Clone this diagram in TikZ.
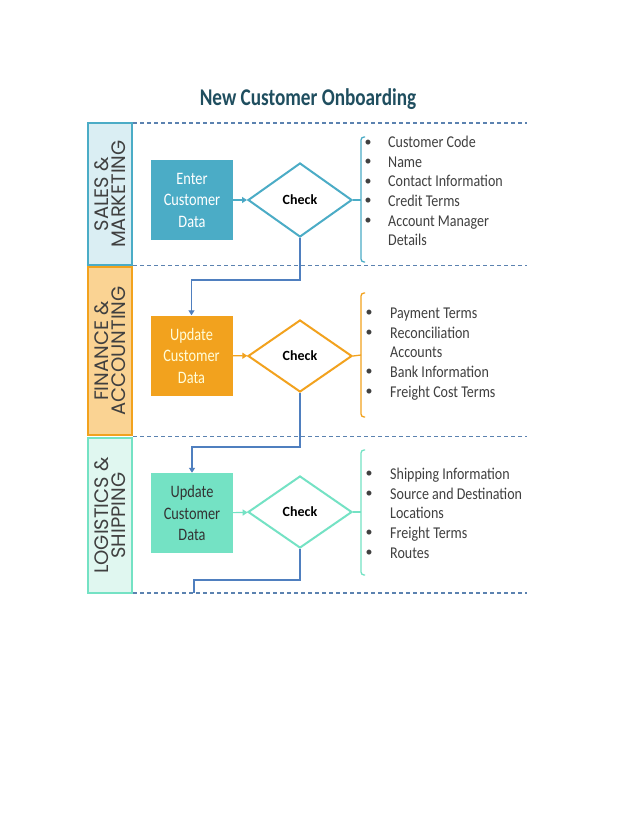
\documentclass[tikz,border=0pt]{standalone}
\usepackage{fontspec}
\setmainfont{Carlito}
\newfontfamily\gothic{Poppins}
\newfontfamily\cond[FakeStretch=0.85]{Carlito}
\newfontfamily\boxfont[FakeStretch=0.82]{Carlito}
\newfontfamily\titlefont[FakeStretch=0.8]{Carlito}
\usetikzlibrary{shapes.geometric,arrows.meta}
\definecolor{tealC}{HTML}{4BACC6}
\definecolor{tealL}{HTML}{DAEEF3}
\definecolor{orgC}{HTML}{F2A21E}
\definecolor{orgL}{HTML}{FAD393}
\definecolor{mintC}{HTML}{74E2C4}
\definecolor{mintL}{HTML}{E0F7F0}
\definecolor{dashC}{HTML}{5B82B0}
\definecolor{connC}{HTML}{4F7FBF}
\definecolor{titleC}{HTML}{1F4E5F}
\definecolor{txtC}{HTML}{404040}
\begin{document}
\begin{tikzpicture}[x=1pt,y=-1pt,
  lane/.style={draw, line width=2.5pt, minimum height=44pt, inner sep=0pt,
     font=\gothic\fontsize{19.5}{17}\selectfont, align=center, rotate=90},
  stepbox/.style={minimum width=82pt, minimum height=80pt, inner sep=0pt,
     align=center, font=\boxfont\fontsize{17.5}{21.5}\selectfont},
  check/.style={diamond, draw, line width=2pt, fill=white, minimum width=104pt,
     minimum height=74pt, aspect=1.4, inner sep=0pt,
     font=\bfseries\fontsize{14}{16}\selectfont},
  dashline/.style={dashC, line width=1.3pt, dash pattern=on 4pt off 3pt},
  arr/.style={line width=1.2pt, -{Triangle[width=6pt,length=5pt]}},
  conn/.style={connC, line width=1.3pt},
  bullet/.style={anchor=center, text=txtC, inner sep=0pt, font=\fontsize{14}{16}\selectfont},
  item/.style={anchor=base west, text=txtC, inner sep=0pt, font=\cond\fontsize{16.5}{19}\selectfont},
  bracket/.style={line width=1.3pt, rounded corners=3pt}
]
\useasboundingbox (0,0) rectangle (638,826);
\fill[white] (0,0) rectangle (638,826);

% title
\node[text=titleC, font=\titlefont\bfseries\fontsize{24}{28}\selectfont] (title) at (308,99) {New Customer Onboarding};

% lanes
\node[lane, draw=tealC, fill=tealL, text=txtC, minimum width=142pt] (lane1) at (110,194) {SALES \&\\MARKETING};
\node[lane, draw=orgC, fill=orgL, text=txtC, minimum width=168pt] (lane2) at (110,351) {FINANCE \&\\ACCOUNTING};
\node[lane, draw=mintC, fill=mintL, text=txtC, minimum width=155pt] (lane3) at (110,515.5) {LOGISTICS \&\\SHIPPING};

% dashed separators
\coordinate (d1) at (527,123);
\coordinate (d2) at (527,265.5);
\coordinate (d3) at (527,436.5);
\coordinate (d4) at (527,593);
\coordinate (s1) at (133,123);
\coordinate (s2) at (133,265.5);
\coordinate (s3) at (133,436.5);
\coordinate (s4) at (133,593);
\draw[dashline] (s1) -- (d1);
\draw[dashline] (s2) -- (d2);
\draw[dashline] (s3) -- (d3);
\draw[dashline] (s4) -- (d4);

% process boxes
\node[stepbox, fill=tealC, text=white] (box1) at (192,200) {Enter\\Customer\\Data};
\node[stepbox, fill=orgC, text=white!85!yellow] (box2) at (191.5,355.5) {Update\\Customer\\Data};
\node[stepbox, fill=mintC, text=black!80] (box3) at (192,513) {Update\\Customer\\Data};

% diamonds
\node[check, draw=tealC] (dia1) at (300,200) {Check};
\node[check, draw=orgC, minimum height=72pt] (dia2) at (300,356) {Check};
\node[check, draw=mintC, minimum height=72pt] (dia3) at (300,512) {Check};

% box -> diamond arrows
\draw[arr, draw=tealC, -{Triangle[width=6pt,length=5pt,fill=connC]}] (box1) -- (dia1);
\draw[arr, draw=orgC, -{Triangle[width=6pt,length=5pt,fill=orgC]}] (box2) -- (dia2);
\draw[arr, draw=mintC, -{Triangle[width=6pt,length=5pt,fill=mintC]}] (box3) -- (dia3);

% lane-to-lane connectors
\draw[conn, arr, connC] (dia1.south) -- (dia1.south |- 0,280) -| (box2.north);
\draw[conn, arr, connC] (dia2.south) -- (dia2.south |- 0,447) -| (box3.north);
\coordinate (end3) at (194,593);
\draw[conn] (dia3.south) -- (dia3.south |- 0,580) -| (end3);

% brackets
\coordinate (b1) at (361,200);
\coordinate (b2) at (361,355);
\coordinate (b3) at (361,512);
\draw[bracket, tealC] (365,137) -- (361,137) -- (361,262) -- (365,262);
\draw[tealC, line width=1.3pt] (dia1.east) -- (b1);
\draw[bracket, orgC] (365,293) -- (361,293) -- (361,417) -- (365,417);
\draw[orgC, line width=1.3pt] (dia2.east) -- (b2);
\draw[bracket, mintC] (365,450) -- (361,450) -- (361,575) -- (365,575);
\draw[mintC, line width=1.3pt] (dia3.east) -- (b3);

% list 1
\node[bullet] (u11) at (368,143) {\textbullet};
\node[item] (t11) at (388,148) {Customer Code};
\node[bullet] (u12) at (368,162.5) {\textbullet};
\node[item] (t12) at (388,167.5) {Name};
\node[bullet] (u13) at (368,182) {\textbullet};
\node[item] (t13) at (388,187) {Contact Information};
\node[bullet] (u14) at (368,201.5) {\textbullet};
\node[item] (t14) at (388,206.5) {Credit Terms};
\node[bullet] (u15) at (368,221) {\textbullet};
\node[item] (t15) at (388,226) {Account Manager};
\node[item] (t16) at (388,245.5) {Details};

% list 2
\node[bullet] (u21) at (369,313) {\textbullet};
\node[item] (t21) at (390,318) {Payment Terms};
\node[bullet] (u22) at (369,333) {\textbullet};
\node[item] (t22) at (390,338) {Reconciliation};
\node[item] (t23) at (390,357.5) {Accounts};
\node[bullet] (u24) at (369,372) {\textbullet};
\node[item] (t24) at (390,377) {Bank Information};
\node[bullet] (u25) at (369,392) {\textbullet};
\node[item] (t25) at (390,397) {Freight Cost Terms};

% list 3
\node[bullet] (u31) at (369,474) {\textbullet};
\node[item] (t31) at (390,479) {Shipping Information};
\node[bullet] (u32) at (369,494) {\textbullet};
\node[item] (t32) at (390,499) {Source and Destination};
\node[item] (t33) at (390,518.5) {Locations};
\node[bullet] (u34) at (369,533) {\textbullet};
\node[item] (t34) at (390,538) {Freight Terms};
\node[bullet] (u35) at (369,553) {\textbullet};
\node[item] (t35) at (390,558) {Routes};
\end{tikzpicture}
\end{document}
